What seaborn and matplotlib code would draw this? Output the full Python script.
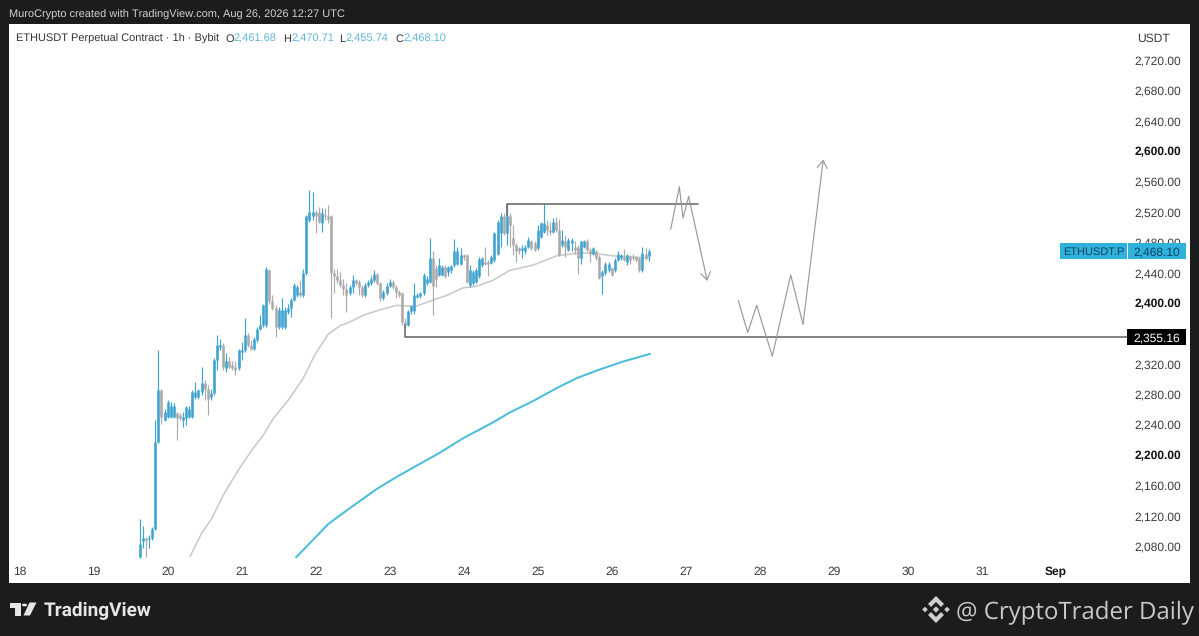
import numpy as np
import pandas as pd
import matplotlib
matplotlib.use("Agg")
import matplotlib.pyplot as plt
from matplotlib.patches import Polygon, Circle, Rectangle
from matplotlib.transforms import blended_transform_factory
import seaborn as sns

# ---------- data ----------
first_candle_day = 19.62
opens = [2066,2086,2091,2089,2090,2102,2217,2285,2246,2250,
         2250,2250,2255,2252,2246,2248,2250,2250,2276,2276,
         2283,2294,2287,2276,2281,2325,2342,2345,2314,2323,
         2318,2316,2314,2336,2338,2358,2345,2340,2351,2366,
         2371,2371,2443,2402,2393,2369,2369,2369,2388,2393,
         2404,2410,2415,2411,2439,2509,2514,2520,2520,2505,
         2516,2514,2514,2439,2435,2430,2424,2419,2413,2421,
         2430,2428,2421,2410,2424,2426,2430,2438,2426,2406,
         2413,2423,2428,2421,2415,2413,2375,2371,2389,2389,
         2408,2409,2413,2426,2428,2459,2446,2437,2437,2447,
         2441,2443,2450,2452,2452,2463,2463,2424,2426,2428,
         2435,2450,2454,2454,2453,2457,2465,2492,2514,2492,
         2514,2485,2476,2472,2470,2468,2474,2481,2479,2472,
         2487,2494,2503,2496,2494,2507,2496,2476,2481,2470,
         2479,2474,2474,2459,2474,2482,2470,2465,2468,2461,
         2435,2439,2443,2446,2443,2457,2459,2461,2454,2461,
         2460,2460,2459,2443,2465,2461.68]
highs = [2116,2107,2092,2094,2105,2246,2338,2287,2261,2272,
         2270,2268,2257,2255,2257,2265,2264,2285,2296,2287,
         2316,2298,2292,2287,2327,2358,2353,2347,2334,2329,
         2323,2323,2340,2349,2380,2360,2351,2355,2369,2384,
         2399,2448,2445,2410,2397,2395,2406,2395,2399,2406,
         2426,2424,2430,2445,2516,2549,2546,2522,2527,2525,
         2525,2529,2516,2445,2445,2441,2432,2426,2424,2437,
         2432,2430,2424,2426,2430,2435,2443,2440,2428,2417,
         2426,2432,2430,2424,2417,2415,2380,2391,2397,2426,
         2413,2415,2439,2435,2485,2468,2450,2459,2450,2450,
         2449,2450,2484,2474,2472,2465,2465,2450,2444,2446,
         2460,2461,2474,2457,2463,2494,2509,2519,2518,2531,
         2518,2503,2479,2474,2476,2476,2487,2483,2481,2503,
         2507,2531,2509,2507,2512,2513,2510,2496,2490,2485,
         2485,2481,2476,2482,2483,2484,2472,2474,2470,2463,
         2443,2454,2454,2448,2459,2468,2465,2471,2465,2463,
         2465,2462,2461,2474,2472,2470.71]
lows = [2064,2077,2066,2077,2088,2101,2215,2241,2244,2248,
        2248,2248,2219,2246,2237,2239,2248,2248,2274,2274,
        2279,2272,2252,2272,2279,2312,2338,2312,2309,2314,
        2312,2305,2312,2325,2336,2342,2338,2338,2349,2364,
        2369,2369,2399,2391,2355,2366,2366,2366,2386,2382,
        2402,2408,2408,2408,2437,2507,2509,2492,2505,2494,
        2509,2505,2380,2413,2426,2421,2410,2388,2410,2413,
        2424,2410,2408,2408,2421,2424,2428,2424,2402,2404,
        2410,2421,2419,2406,2408,2371,2369,2370,2386,2386,
        2406,2407,2411,2424,2426,2384,2421,2435,2435,2433,
        2435,2439,2448,2450,2450,2457,2426,2421,2424,2426,
        2433,2448,2450,2435,2451,2454,2463,2474,2490,2476,
        2474,2463,2454,2465,2459,2465,2472,2470,2469,2470,
        2485,2492,2490,2490,2492,2494,2462,2474,2461,2468,
        2468,2465,2438,2452,2472,2468,2454,2463,2457,2432,
        2412,2437,2441,2435,2441,2455,2457,2455,2450,2452,
        2457,2454,2441,2441,2457,2455.74]
closes = [2083,2090,2088,2091,2103,2217,2285,2250,2257,2270,
          2265,2265,2248,2248,2250,2263,2261,2283,2283,2285,
          2294,2287,2274,2281,2325,2345,2345,2316,2323,2316,
          2315,2312,2338,2338,2358,2345,2340,2353,2366,2371,
          2397,2445,2402,2393,2369,2391,2391,2391,2393,2404,
          2424,2421,2411,2439,2514,2520,2520,2514,2507,2518,
          2514,2511,2439,2435,2430,2424,2419,2410,2421,2430,
          2426,2421,2410,2424,2428,2432,2438,2426,2406,2415,
          2423,2428,2421,2415,2410,2375,2371,2389,2396,2411,
          2411,2413,2437,2432,2459,2422,2432,2450,2448,2435,
          2447,2449,2468,2468,2463,2461,2428,2443,2441,2443,
          2458,2459,2452,2452,2461,2492,2507,2514,2492,2514,
          2503,2476,2468,2468,2472,2474,2483,2472,2470,2496,
          2505,2505,2496,2494,2507,2496,2463,2483,2474,2483,
          2483,2470,2459,2481,2481,2470,2465,2472,2459,2433,
          2441,2452,2452,2437,2457,2465,2463,2457,2463,2457,
          2459,2457,2443,2466,2459,2468.10]

ema_slow_days = [20.297,20.455,20.59,20.747,20.95,21.131,21.288,21.423,21.626,21.828,
                 21.986,22.166,22.324,22.459,22.64,22.865,23.09,23.18,
                 23.36,23.585,23.766,23.99,24.17,24.396,24.62,24.937,25.25,25.477,
                 25.70,26.018,26.378,26.50]
ema_slow = [2066,2097,2116,2147,2180,2206,2226,2248,2272,2301,
            2332,2359,2370,2375,2384,2391,2397,2396,
            2396,2404,2410,2420,2422,2430,2443,2450,2462,2465,
            2466,2462,2460,2459]
ema_fast_days = [21.73,21.919,22.166,22.459,22.82,23.09,23.382,23.676,23.99,24.396,
                 24.622,24.936,25.253,25.523,25.793,26.153,26.514]
ema_fast = [2065,2084,2109,2130,2155,2171,2187,2203,2222,2243,
            2256,2271,2288,2301,2311,2323,2333]

path1_days = [26.793,26.91,26.959,27.036,27.288]
path1_prices = [2497,2553,2512,2540,2429]
path2_days = [27.707,27.834,27.955,28.166,28.415,28.581,28.855]
path2_prices = [2403,2361,2397,2330,2437,2372,2589]

upper_days = [24.581,24.581,27.162]
upper_prices = [2515,2531,2531]
lower_days = [23.203,23.203,32.96]
lower_prices = [2371,2355.16,2355.16]

price_ticks = list(range(2080, 2721, 40))
day_ticks = [18,19,20,21,22,23,24,25,26,27,28,29,30,31,32]
day_labels = ["18","19","20","21","22","23","24","25","26","27","28","29","30","31","Sep"]
last_price = 2468.10
level_price = 2355.16

# ---------- style ----------
W, H = 1199, 636
DARK = "#1c1c1c"
UP = "#3fa3d0"
DOWN = "#aaaaaa"
sns.set_theme(style="white")
plt.rcParams["font.family"] = ["Liberation Sans", "DejaVu Sans"]
plt.rcParams["text.hinting"] = "no_hinting"
plt.rcParams["text.hinting_factor"] = 1

fig = plt.figure(figsize=(W/100, H/100), dpi=100, facecolor=DARK)
ax = fig.add_axes([9/W, (H-583)/H, (1190-9)/W, (583-24)/H], facecolor="white")

def path_line(xs, ys, **kw):
    sns.lineplot(x=xs, y=ys, ax=ax, sort=False, estimator=None, **kw)

# ---------- moving averages ----------
path_line(ema_slow_days, ema_slow, color="#c8c8c8", lw=1.1, zorder=1)
path_line(ema_fast_days, ema_fast, color="#4bbdd8", lw=1.45, zorder=1)

# ---------- candles ----------
days = first_candle_day + np.arange(len(closes)) / 24
candles = pd.DataFrame({"candle": np.arange(len(closes)), "day": days,
                        "open": opens, "high": highs, "low": lows, "close": closes})
candles["dir"] = np.where(candles["close"] >= candles["open"], "up", "down")
pal = {"up": UP, "down": DOWN}
wicks = candles.melt(id_vars=["candle", "day", "dir"], value_vars=["high", "low"], value_name="price")
bodies = candles.melt(id_vars=["candle", "day", "dir"], value_vars=["open", "close"], value_name="price")
sns.lineplot(data=wicks, x="day", y="price", units="candle", estimator=None, hue="dir",
             palette=pal, legend=False, lw=0.85, solid_capstyle="butt", ax=ax, zorder=2)
sns.lineplot(data=bodies, x="day", y="price", units="candle", estimator=None, hue="dir",
             palette=pal, legend=False, lw=1.85, solid_capstyle="butt", ax=ax, zorder=3)

# ---------- levels and drawn forecast ----------
LEVEL = "#686868"
for dd, pp in ((upper_days, upper_prices), (lower_days, lower_prices)):
    path_line(dd, pp, color=LEVEL, lw=1.15, zorder=4)
PATH = "#9a9a9a"
for dd, pp in ((path1_days, path1_prices), (path2_days, path2_prices)):
    path_line(dd[:-1], pp[:-1], color=PATH, lw=0.85, zorder=5)
    ax.annotate("", xy=(dd[-1], pp[-1]), xytext=(dd[-2], pp[-2]),
                arrowprops=dict(arrowstyle="->,head_length=0.45,head_width=0.3", color=PATH, lw=0.85,
                                shrinkA=0, shrinkB=0), zorder=5)

# ---------- axes ----------
ax.set_xlim(18 - 11/74, 18 + 1170/74)
ax.set_ylim(2400 - 280*1.3168, 2400 + 279*1.3168)
ax.set_xlabel(""); ax.set_ylabel("")
for s in ax.spines.values():
    s.set_visible(False)
ax.yaxis.tick_right()
ax.set_yticks(price_ticks)
ax.set_yticklabels([f"{p:,.2f}" for p in price_ticks])
ax.set_xticks(day_ticks)
ax.set_xticklabels(day_labels)
ax.tick_params(axis="y", length=0, pad=-40, labelsize=8.9, labelcolor="#3a3a3a")
ax.tick_params(axis="x", length=0, pad=-12.3, labelsize=8.3, labelcolor="#3a3a3a")
for t, p in zip(ax.get_yticklabels(), price_ticks):
    if p % 200 == 0:
        t.set_fontweight("bold")
        t.set_color("#111111")
ax.get_xticklabels()[-1].set_fontweight("bold")
ax.get_xticklabels()[-1].set_color("#111111")

# ---------- price tags ----------
tr = blended_transform_factory(fig.transFigure, ax.transData)
def fx(px):
    return px / W
hh = 8 * 1.3168
ax.add_patch(Rectangle((fx(1060), last_price - hh), fx(1126.5) - fx(1060), 2*hh, transform=tr,
                       color="#2fb1dc", lw=0, zorder=8, clip_on=False))
ax.add_patch(Rectangle((fx(1127.5), last_price - hh), fx(1186) - fx(1127.5), 2*hh, transform=tr,
                       color="#2fb1dc", lw=0, zorder=8, clip_on=False))
ax.add_patch(Rectangle((fx(1127), level_price - hh), fx(1186) - fx(1127), 2*hh, transform=tr,
                       color="#000000", lw=0, zorder=8, clip_on=False))
ax.text(fx(1093.5), last_price, "ETHUSDT.P", transform=tr, ha="center", va="center_baseline",
        fontsize=8.2, color="#0d4460", zorder=9)
ax.text(fx(1157), last_price, f"{last_price:,.2f}", transform=tr, ha="center", va="center_baseline",
        fontsize=8.9, color="#0d4460", zorder=9)
ax.text(fx(1157), level_price, f"{level_price:,.2f}", transform=tr, ha="center", va="center_baseline",
        fontsize=8.9, color="white", zorder=9)

# ---------- frame texts ----------
def ptext(x, y, s, **kw):
    kw.setdefault("va", "center_baseline")
    return fig.text(x/W, 1 - y/H, s, **kw)

ptext(1137, 38, "USDT", fontsize=8.5, color="#3a3a3a", zorder=10)
ptext(9, 14, "MuroCrypto created with TradingView.com, Aug 26, 2026 12:27 UTC", fontsize=8.27, color="#d2d2d2")
ptext(16, 38, "ETHUSDT Perpetual Contract · 1h · Bybit", fontsize=7.95, color="#333333", zorder=10)
BLUE = "#62b4d8"
for x1, lab, x2, val in ((225.5, "O", 233.5, "2,461.68"), (283.5, "H", 291.5, "2,470.71"),
                         (339.5, "L", 345.5, "2,455.74"), (395.5, "C", 403, "2,468.10")):
    ptext(x1, 38, lab, fontsize=8.1, color="#333333", zorder=10)
    ptext(x2, 38, val, fontsize=8.1, color=BLUE, zorder=10)

# TradingView mark and word
LOGO = "#e6e6e6"
def poly(points, color=LOGO):
    fig.add_artist(Polygon([(x/W, 1 - y/H) for x, y in points], closed=True, transform=fig.transFigure,
                           facecolor=color, edgecolor="none"))
poly([(10, 602.5), (20.5, 602.5), (20.5, 615.5), (15, 615.5), (15, 608), (10, 608)])
poly([(29.5, 602.5), (36.5, 602.5), (30, 615.5), (23.5, 615.5)])
fig.add_artist(Circle((24.5/W, 1 - 605/H), 2.6/W, transform=fig.transFigure, facecolor=LOGO, edgecolor="none"))
ptext(43.5, 609, "TradingView", fontsize=14, fontweight="bold", color=LOGO, family=["Roboto", "DejaVu Sans"])

# Binance-like diamond mark and the watermark
MARK = "#cfcfcf"
cx, cy = 936, 609.5
def diamond(x, y, r):
    poly([(x, y-r), (x+r, y), (x, y+r), (x-r, y)], MARK)
diamond(cx, cy, 3.2)
diamond(cx-11, cy, 2.8)
diamond(cx+11, cy, 2.8)
poly([(cx, cy-13.5), (cx+8, cy-5.5), (cx+5, cy-2.5), (cx, cy-7.5), (cx-5, cy-2.5), (cx-8, cy-5.5)], MARK)
poly([(cx, cy+13.5), (cx+8, cy+5.5), (cx+5, cy+2.5), (cx, cy+7.5), (cx-5, cy+2.5), (cx-8, cy+5.5)], MARK)
ptext(956, 610, "@ CryptoTrader Daily", fontsize=17.0, color="#c9c9c9", family=["Open Sans", "DejaVu Sans"])

fig.savefig("out.png", dpi=100, facecolor=DARK)
